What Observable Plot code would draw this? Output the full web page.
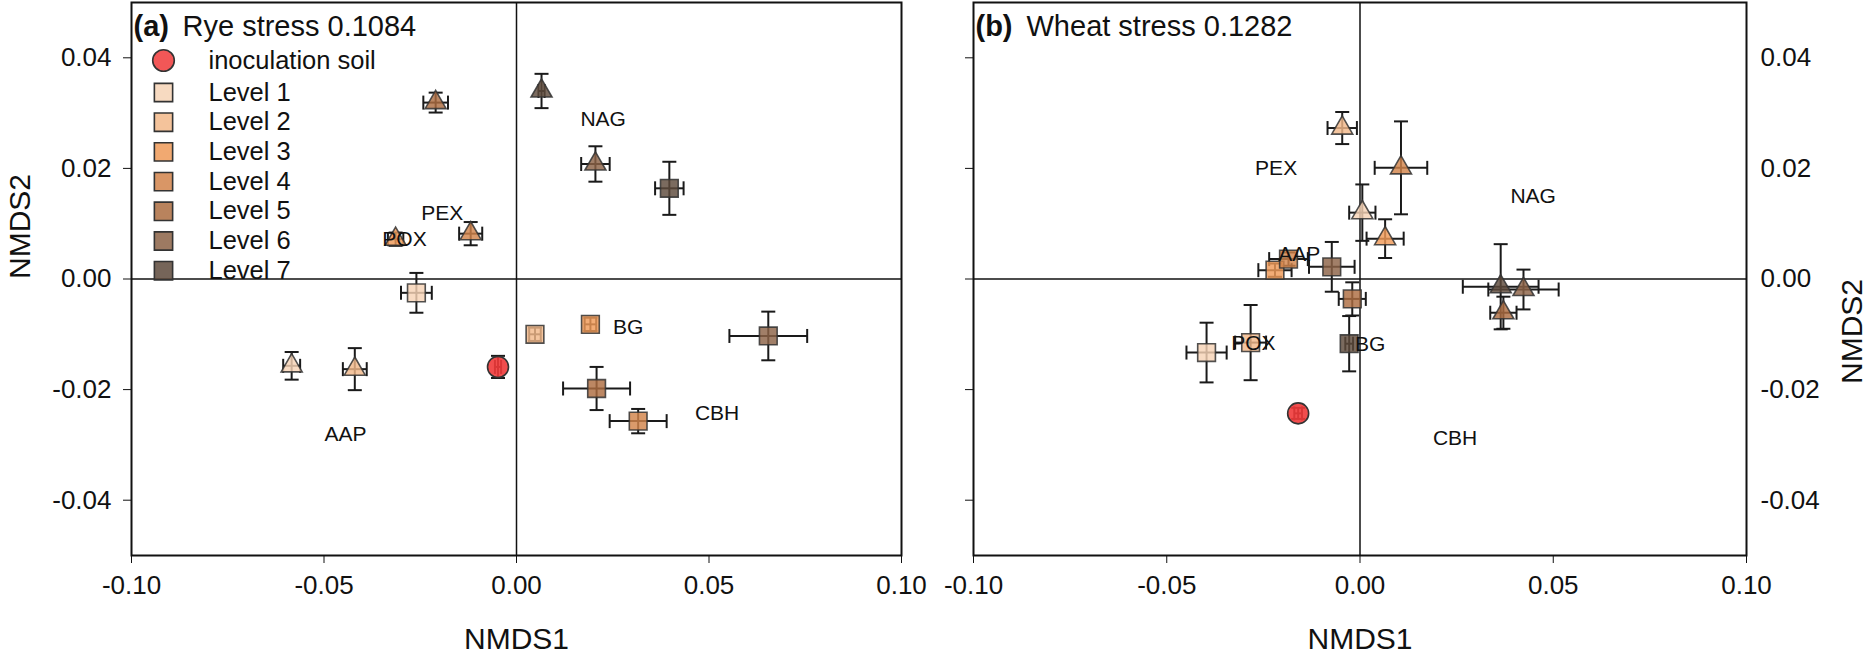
<!DOCTYPE html>
<html>
<head>
<meta charset="utf-8">
<script src="https://cdn.jsdelivr.net/npm/d3@7"></script>
<script src="https://cdn.jsdelivr.net/npm/@observablehq/plot@0.6"></script>
<style>
  html, body { margin: 0; padding: 0; background: #fff; }
  #wrap { display: flex; flex-direction: row; width: 1865px; }
</style>
</head>
<body>
<div id="wrap"></div>
<script>
// ---------- data ----------
const levels = ["Level 1", "Level 2", "Level 3", "Level 4", "Level 5", "Level 6", "Level 7"];
const inocLabel = "inoculation soil";
const levelColors = ["#f6d3b6", "#f2b88a", "#ef9a58", "#d2844b", "#ad6d41", "#8c6347", "#5e4a3c"];
const inocColor = "#f03a3a";
const xTicks = [-0.10, -0.05, 0.00, 0.05, 0.10];
const yTicks = [-0.04, -0.02, 0.00, 0.02, 0.04];

// (a) Rye — triangles, Level 1..7
const ryeTriX  = [-0.0584, -0.0420, -0.0314, -0.0119, -0.0210, 0.0205, 0.0065];
const ryeTriY  = [-0.0157, -0.0163,  0.0072,  0.0082,  0.0319, 0.0208, 0.0340];
const ryeTriXe = [ 0.0022,  0.0031,  0.0020,  0.0030,  0.0032, 0.0037, 0.0008];
const ryeTriYe = [ 0.0025,  0.0038,  0.0012,  0.0021,  0.0018, 0.0032, 0.0031];
// (a) Rye — squares, Level 1..7
const ryeSqX  = [-0.0260, 0.0048, 0.0192, 0.0316, 0.0208, 0.0654, 0.0397];
const ryeSqY  = [-0.0025, -0.0100, -0.0082, -0.0257, -0.0198, -0.0103, 0.0164];
const ryeSqXe = [ 0.0040, 0.0015, 0.0015, 0.0074, 0.0087, 0.0101, 0.0037];
const ryeSqYe = [ 0.0036, 0.0012, 0.0012, 0.0022, 0.0039, 0.0044, 0.0048];
// (a) inoculation soil
const ryeInoc = [-0.0048, -0.0159, 0.0008, 0.0020];
// (a) enzyme labels
const ryeEnz  = ["NAG", "PEX", "POX", "BG", "CBH", "AAP"];
const ryeEnzX = [0.0225, -0.0193, -0.0291, 0.0290, 0.0521, -0.0444];
const ryeEnzY = [0.0289, 0.0118, 0.0072, -0.0087, -0.0242, -0.0280];

// (b) Wheat — triangles, Level 1..7
const wheatTriX  = [0.0006, -0.0046, 0.0065, 0.0106, 0.0371, 0.0423, 0.0364];
const wheatTriY  = [0.0120, 0.0273, 0.0073, 0.0201, -0.0061, -0.0019, -0.0014];
const wheatTriXe = [0.0034, 0.0038, 0.0048, 0.0068, 0.0034, 0.0091, 0.0098];
const wheatTriYe = [0.0051, 0.0029, 0.0035, 0.0084, 0.0029, 0.0036, 0.0077];
// (b) Wheat — squares, Level 1..7
const wheatSqX  = [-0.0397, -0.0283, -0.0220, -0.0185, -0.0020, -0.0073, -0.0028];
const wheatSqY  = [-0.0133, -0.0115, 0.0016, 0.0036, -0.0036, 0.0022, -0.0117];
const wheatSqXe = [0.0052, 0.0040, 0.0043, 0.0050, 0.0035, 0.0059, 0.0010];
const wheatSqYe = [0.0054, 0.0068, 0.0012, 0.0012, 0.0030, 0.0045, 0.0050];
// (b) inoculation soil
const wheatInoc = [-0.0160, -0.0243, 0.0010, 0.0010];
// (b) enzyme labels
const wheatEnz  = ["NAG", "PEX", "AAP", "POX", "BG", "CBH"];
const wheatEnzX = [0.0448, -0.0217, -0.0157, -0.0276, 0.0026, 0.0246];
const wheatEnzY = [0.0150, 0.0200, 0.0045, -0.0117, -0.0118, -0.0288];

// ---------- helpers ----------
const FONT = "Liberation Sans, Arial, Helvetica, sans-serif";
const fmt = d => d.toFixed(2);
const rows = (xs, ys, xes, yes, shape) =>
  xs.map((x, i) => ({x, y: ys[i], xe: xes[i], ye: yes[i], level: levels[i], shape}));
const inocRow = a => [{x: a[0], y: a[1], xe: a[2], ye: a[3], level: inocLabel, shape: "circle"}];
const labelRows = (names, xs, ys) => names.map((n, i) => ({n, x: xs[i], y: ys[i]}));

const hcap = {draw(ctx, size) { const r = Math.sqrt(size / Math.PI); ctx.moveTo(-r, 0); ctx.lineTo(r, 0); }};
const vcap = {draw(ctx, size) { const r = Math.sqrt(size / Math.PI); ctx.moveTo(0, -r); ctx.lineTo(0, r); }};

const colorScale = {domain: [...levels, inocLabel], range: [...levelColors, inocColor]};

function panel({tri, sq, inoc, enz, bold, title, width, ml, mr, side}) {
  const pts = [...tri, ...sq, ...inoc];
  const barColor = "#1a1a1a";
  const marks = [
    Plot.ruleX([0], {stroke: "#111", strokeWidth: 1.5}),
    Plot.ruleY([0], {stroke: "#111", strokeWidth: 1.5}),
    // error bars
    Plot.link(pts, {x1: d => d.x - d.xe, x2: d => d.x + d.xe, y1: "y", y2: "y", stroke: barColor, strokeWidth: 2}),
    Plot.link(pts, {x1: "x", x2: "x", y1: d => d.y - d.ye, y2: d => d.y + d.ye, stroke: barColor, strokeWidth: 2}),
    Plot.dot(pts, {x: d => d.x - d.xe, y: "y", symbol: vcap, r: 7, stroke: barColor, fill: "none", strokeWidth: 2}),
    Plot.dot(pts, {x: d => d.x + d.xe, y: "y", symbol: vcap, r: 7, stroke: barColor, fill: "none", strokeWidth: 2}),
    Plot.dot(pts, {x: "x", y: d => d.y - d.ye, symbol: hcap, r: 7, stroke: barColor, fill: "none", strokeWidth: 2}),
    Plot.dot(pts, {x: "x", y: d => d.y + d.ye, symbol: hcap, r: 7, stroke: barColor, fill: "none", strokeWidth: 2}),
    // markers
    Plot.dot(sq, {x: "x", y: "y", symbol: "square", r: 10, fill: "level", fillOpacity: 0.82, stroke: "#333", strokeOpacity: 0.85, strokeWidth: 1.6}),
    Plot.dot(tri, {x: "x", y: "y", symbol: "triangle", r: 7.8, fill: "level", fillOpacity: 0.82, stroke: "#333", strokeOpacity: 0.85, strokeWidth: 1.6}),
    Plot.dot(inoc, {x: "x", y: "y", symbol: "circle", r: 10.5, fill: "level", fillOpacity: 0.9, stroke: "#333", strokeWidth: 1.6}),
    // enzyme labels
    Plot.text(enz, {x: "x", y: "y", text: "n", fontSize: 21, fill: "#111"}),
    Plot.frame({stroke: "#111", strokeWidth: 2}),
    // axes
    Plot.axisX({ticks: xTicks, tickFormat: fmt, tickSize: 8, tickPadding: 12, fontSize: 26, label: null}),
    Plot.text(["NMDS1"], {frameAnchor: "bottom", dy: 84, fontSize: 30, lineAnchor: "middle"}),
    // titles
    Plot.text([bold], {frameAnchor: "top-left", dx: 2, dy: 13, fontSize: 29, fontWeight: "bold", textAnchor: "start", lineAnchor: "top"}),
    Plot.text([title], {frameAnchor: "top-left", dx: side === "left" ? 51 : 53, dy: 13, fontSize: 29, textAnchor: "start", lineAnchor: "top"})
  ];
  if (side === "left") {
    marks.push(
      Plot.axisY({anchor: "left", ticks: yTicks, tickFormat: fmt, tickSize: 8, tickPadding: 12, fontSize: 26, label: null}),
      Plot.text(["NMDS2"], {frameAnchor: "left", dx: -111, rotate: -90, fontSize: 30})
    );
    // legend
    const legendItems = [inocLabel, ...levels];
    legendItems.forEach((name, i) => {
      const dy = i === 0 ? 58 : 90 + (i - 1) * 29.7;
      marks.push(
        Plot.dot([name], {frameAnchor: "top-left", dx: 32, dy, symbol: i === 0 ? "circle" : "square",
          r: i === 0 ? 10.8 : 10.3, fill: d => d, fillOpacity: 0.85, stroke: "#333", strokeWidth: 1.6}),
        Plot.text([name], {frameAnchor: "top-left", dx: 77, dy, fontSize: 25.5, textAnchor: "start", lineAnchor: "middle"})
      );
    });
  } else {
    marks.push(
      Plot.axisY({anchor: "left", ticks: yTicks, tickFormat: () => "", tickSize: 8, label: null}),
      Plot.axisY({anchor: "right", ticks: yTicks, tickFormat: fmt, tickSize: 0, tickPadding: 14, fontSize: 26, label: null}),
      Plot.text(["NMDS2"], {frameAnchor: "right", dx: 106, rotate: -90, fontSize: 30})
    );
  }
  return Plot.plot({
    width, height: 653,
    marginTop: 2, marginBottom: 98, marginLeft: ml, marginRight: mr,
    x: {domain: [-0.1, 0.1]},
    y: {domain: [-0.05, 0.05]},
    color: colorScale,
    style: {fontFamily: FONT, fontSize: "26px", color: "#111", background: "#fff", overflow: "visible"},
    marks
  });
}

const wrap = document.getElementById("wrap");
wrap.appendChild(panel({
  tri: rows(ryeTriX, ryeTriY, ryeTriXe, ryeTriYe, "triangle"),
  sq: rows(ryeSqX, ryeSqY, ryeSqXe, ryeSqYe, "square"),
  inoc: inocRow(ryeInoc),
  enz: labelRows(ryeEnz, ryeEnzX, ryeEnzY),
  bold: "(a)", title: "Rye stress 0.1084",
  width: 940, ml: 131, mr: 39, side: "left"
}));
wrap.appendChild(panel({
  tri: rows(wheatTriX, wheatTriY, wheatTriXe, wheatTriYe, "triangle"),
  sq: rows(wheatSqX, wheatSqY, wheatSqXe, wheatSqYe, "square"),
  inoc: inocRow(wheatInoc),
  enz: labelRows(wheatEnz, wheatEnzX, wheatEnzY),
  bold: "(b)", title: "Wheat stress 0.1282",
  width: 925, ml: 33, mr: 119, side: "right"
}));
</script>
</body>
</html>
